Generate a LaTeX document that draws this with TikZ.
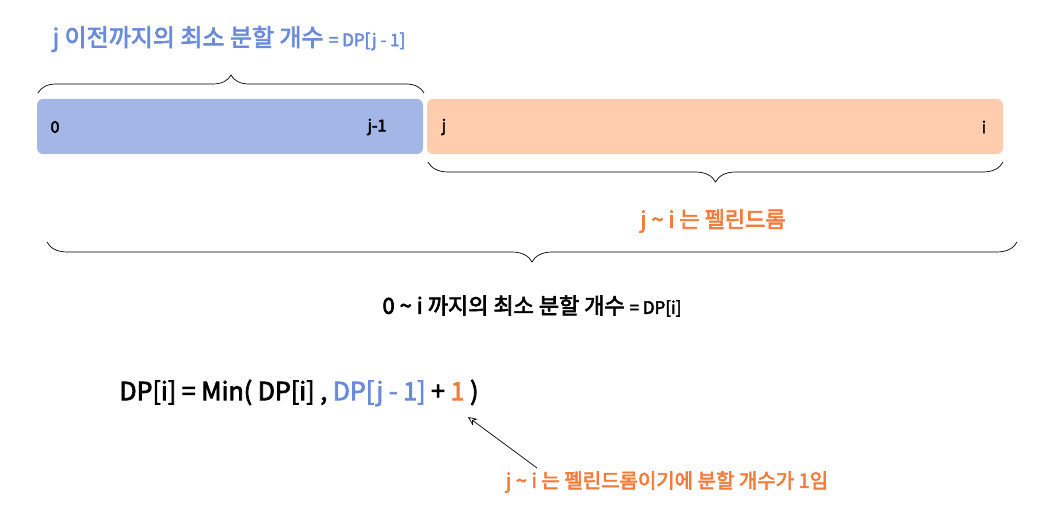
\documentclass[tikz,border=0pt]{standalone}
\usepackage{fontspec}
\setmainfont{Noto Sans CJK KR}[AutoFakeBold=3]
\usetikzlibrary{decorations.pathreplacing,arrows.meta}
\definecolor{bluebox}{HTML}{A3B6E6}
\definecolor{orbox}{HTML}{FFCDAE}
\definecolor{bluetxt}{HTML}{6A8ADB}
\definecolor{ortxt}{HTML}{F47B3A}
\begin{document}
\begin{tikzpicture}[x=1pt,y=-1pt,
  seg/.style={rounded corners=6pt},
  lbl/.style={font=\bfseries\fontsize{16}{18}\selectfont,inner sep=0},
  brc/.style={decorate,decoration={brace,amplitude=18pt},line width=0.7pt},
  brcm/.style={decorate,decoration={brace,amplitude=20pt,mirror},line width=0.7pt}]
\useasboundingbox (0,0) rectangle (1037,516);
\fill[bluebox,seg] (37,99) rectangle (423,154);
\fill[orbox,seg] (427,99) rectangle (1003,154);
\node[lbl] (z) at (55,127) {0};
\node[lbl] (j1) at (377,127) {j-1};
\node[lbl] (j) at (444,127) {j};
\node[lbl] (i) at (984,127) {i};
\coordinate (a1) at (38,93); \coordinate (a2) at (424,93);
\draw[brc] (a1) -- (a2);
\coordinate (b1) at (428,162); \coordinate (b2) at (1003,162);
\draw[brcm] (b1) -- (b2);
\coordinate (c1) at (47,242); \coordinate (c2) at (1017,242);
\draw[brcm] (c1) -- (c2);
\node[lbl,text=bluetxt] (t1) at (229,39) {\fontsize{24}{26}\selectfont j 이전까지의 최소 분할 개수 \fontsize{17}{19}\selectfont = DP[j - 1]};
\node[lbl,text=ortxt] (t2) at (713,221) {\fontsize{22}{24}\selectfont j \textasciitilde{} i 는 펠린드롬};
\node[lbl] (t3) at (532,306) {\fontsize{22}{24}\selectfont 0 \textasciitilde{} i 까지의 최소 분할 개수 \fontsize{17}{19}\selectfont = DP[i]};
\node[lbl,font=\bfseries\fontsize{25}{28}\selectfont] (f) at (299,393) {DP[i] = Min( DP[i] , \textcolor{bluetxt}{DP[j - 1]} + \textcolor{ortxt}{1} )};
\node[lbl,text=ortxt] (t4) at (667,482) {\fontsize{20}{22}\selectfont j \textasciitilde{} i 는 펠린드롬이기에 분할 개수가 1임};
\coordinate (p1) at (537,468); \coordinate (p2) at (468,417);
\draw[-{Stealth[length=9pt,width=8pt,open]},line width=0.7pt] (p1) -- (p2);
\end{tikzpicture}
\end{document}
